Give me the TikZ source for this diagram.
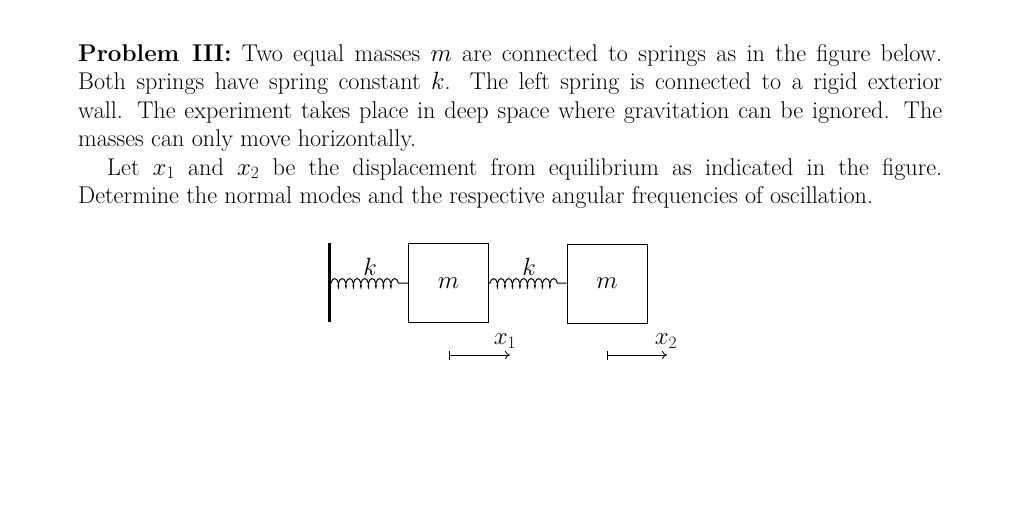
\documentclass[tikz,border=0pt]{standalone}
\usetikzlibrary{decorations.pathmorphing,arrows.meta}
\begin{document}
\begin{tikzpicture}[x=1pt,y=-1pt,
  mass/.style={draw,line width=1pt,minimum width=80pt,minimum height=79pt,inner sep=0pt},
  spr/.style={decorate,line width=1pt,decoration={coil,amplitude=4.5pt,segment length=7.5pt,aspect=0.4,pre length=1pt,post length=8pt}},
  lbl/.style={font=\fontsize{23}{27}\selectfont},
  disp/.style={line width=0.8pt,{Bar[width=9pt]}-{To[length=5pt,width=8pt]}}]
\useasboundingbox (0,0) rectangle (1024,505);
\node[anchor=north west,inner sep=0pt,text width=864pt,align=justify,font=\fontsize{24.2}{28.5}\selectfont] (txt) at (78,44) {%
\textbf{Problem III:} Two equal masses $m$ are connected to springs as in the figure below.\linebreak
Both springs have spring constant $k$. The left spring is connected to a rigid exterior\linebreak
wall. The experiment takes place in deep space where gravitation can be ignored. The\linebreak
masses can only move horizontally.\par
\hspace*{1.2em}Let $x_1$ and $x_2$ be the displacement from equilibrium as indicated in the figure.\linebreak
Determine the normal modes and the respective angular frequencies of oscillation.\par};
\draw[line width=3pt] (329,243) coordinate (wt) -- (329,322) coordinate (wb);
\coordinate (w) at (330,283);
\node[mass] (m1) at (448.5,283) {};
\node[lbl] at (m1) {$m$};
\node[mass] (m2) at (607,283.5) {};
\node[lbl] at (m2) {$m$};
\draw[spr] (w) -- (m1.west);
\draw[spr] (m1.east) -- (m2.west|-m1.east);
\node[lbl] at (370,267) {$k$};
\node[lbl] at (529,267) {$k$};
\coordinate (a1) at (449,355); \coordinate (b1) at (510,355);
\coordinate (a2) at (607,355); \coordinate (b2) at (667,355);
\draw[disp] (a1) -- (b1);
\draw[disp] (a2) -- (b2);
\node[lbl] at (505,341) {$x_1$};
\node[lbl] at (666,341) {$x_2$};
\end{tikzpicture}
\end{document}
